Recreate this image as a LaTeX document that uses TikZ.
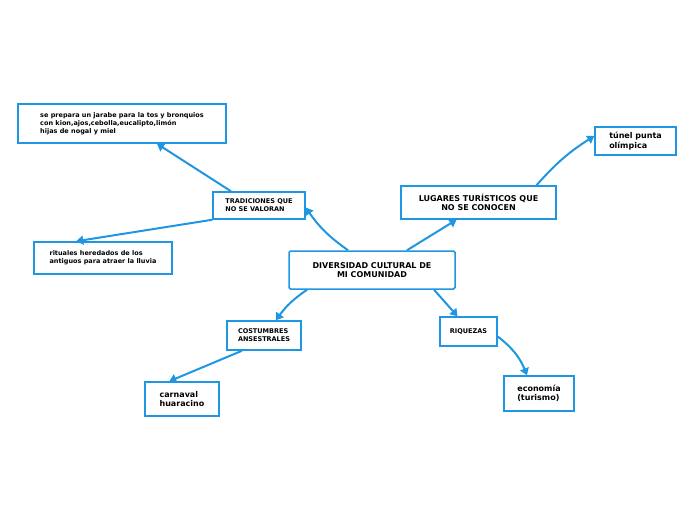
\documentclass[tikz,border=0pt]{standalone}
\usepackage{fontspec}
\setmainfont{DejaVu Sans}
\usetikzlibrary{arrows.meta}
\definecolor{mb}{RGB}{30,150,225}
\begin{document}
\begin{tikzpicture}[x=1pt,y=-1pt,
 box/.style={draw=mb,line width=1.5pt,fill=white,inner sep=2pt,font=\bfseries,align=left,anchor=north west},
 big/.style={box,font=\fontsize{8}{9.5}\selectfont\bfseries},
 sm/.style={box,font=\fontsize{6.5}{8}\selectfont\bfseries},
 con/.style={draw=mb,line width=2pt,-{Triangle[length=7pt,width=9pt]}}]
\useasboundingbox (0,0) rectangle (696,520);
\node[big,minimum width=166pt,minimum height=38pt,align=center,anchor=center,rounded corners=1.5pt] (c) at (372,270) {DIVERSIDAD CULTURAL DE\\MI COMUNIDAD};
\node[sm,minimum width=92pt,minimum height=27pt,anchor=center] (t) at (259,205.5) {TRADICIONES QUE\\NO SE VALORAN};
\node[sm,minimum width=208pt,minimum height=39pt,anchor=center] (j) at (122,123.5) {se prepara un jarabe para la tos y bronquios\\con kion,ajos,cebolla,eucalipto,limón\\hijas de nogal y miel};
\node[sm,minimum width=138pt,minimum height=32pt,anchor=center] (r) at (103,258) {rituales heredados de los\\antiguos para atraer la lluvia};
\node[big,minimum width=155pt,minimum height=33pt,align=center,anchor=center] (l) at (478.5,202.5) {LUGARES TURÍSTICOS QUE\\NO SE CONOCEN};
\node[big,minimum width=81pt,minimum height=28pt,anchor=center] (tu) at (635.5,141) {túnel punta\\olímpica};
\node[sm,minimum width=74pt,minimum height=29pt,anchor=center] (co) at (264,335.5) {COSTUMBRES\\ANSESTRALES};
\node[big,minimum width=74pt,minimum height=34pt,anchor=center] (ca) at (182,399) {carnaval\\huaracino};
\node[sm,minimum width=57pt,minimum height=29pt,anchor=center] (ri) at (468.5,331.5) {RIQUEZAS};
\node[big,minimum width=70pt,minimum height=35pt,anchor=center] (e) at (539,393.5) {economía\\(turismo)};
\draw[con] ([xshift=-24pt]c.north) to[bend left=10] ([yshift=-2pt]t.east);
\draw[con] ([xshift=-28pt]t.north) -- ([xshift=35pt]j.south);
\draw[con] (t.south west) -- ([xshift=43pt]r.north west);
\draw[con] ([xshift=35pt]c.north) -- ([xshift=-22pt]l.south);
\draw[con] ([xshift=58pt]l.north) to[bend left=8] ([yshift=5pt]tu.west);
\draw[con] ([xshift=-65pt]c.south) to[bend right=10] ([xshift=12pt]co.north);
\draw[con] ([xshift=-22pt]co.south) -- ([xshift=25pt]ca.north west);
\draw[con] ([xshift=62pt]c.south) -- ([xshift=-11pt]ri.north);
\draw[con] ([yshift=-5pt]ri.east) to[bend left=15] ([xshift=-12pt]e.north);
\end{tikzpicture}
\end{document}
